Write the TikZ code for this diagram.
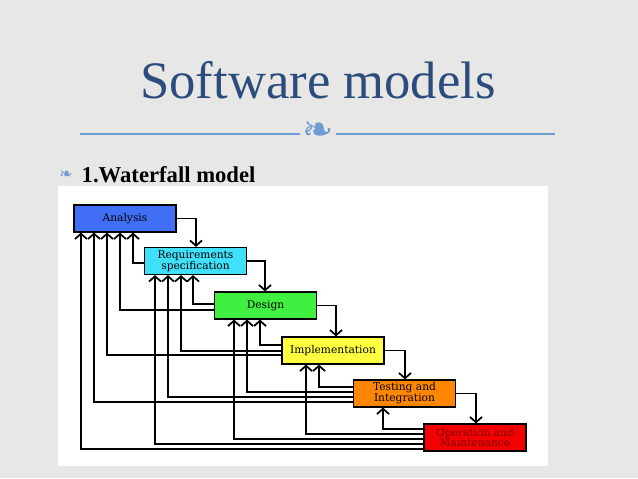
\documentclass[tikz,border=0pt]{standalone}
\usepackage{fontspec}
\setmainfont{Liberation Serif}
\newfontfamily\symfont{DejaVu Sans}
\newfontfamily\boxfont{DejaVu Serif}
\usetikzlibrary{arrows.meta,calc}
\definecolor{bg}{HTML}{E7E7E5}
\definecolor{titleblue}{HTML}{2C4C7E}
\definecolor{lineblue}{HTML}{6E9CD2}
\tikzset{
  box/.style={draw=black,line width=1.1pt,minimum width=76.5pt,minimum height=20pt,inner sep=0pt,align=center,font=\boxfont\fontsize{8}{8.2}\selectfont},
  fw/.style={line width=1.2pt,-{Straight Barb[length=4pt,width=9pt,line width=1.3pt]}},
  fb/.style={line width=1.2pt,-{Straight Barb[length=4pt,width=9pt,line width=1.3pt]}}
}
\begin{document}
\begin{tikzpicture}[x=0.75pt,y=-0.75pt]
\fill[bg] (0,0) rectangle (638,478);
\useasboundingbox (0,0) rectangle (638,478);
\fill[white] (58,186) rectangle (548,466);
\node[text=titleblue,font=\fontsize{39.5}{42}\selectfont] (title) at (318,80) {Software models};
\draw[lineblue,line width=0.8pt] (80,134) -- (300,134);
\draw[lineblue,line width=0.8pt] (336,134) -- (555,134);
\node[text=lineblue,font=\symfont\bfseries\fontsize{28}{28}\selectfont] (orn) at (318,132) {❧};
\node[text=lineblue,font=\symfont\fontsize{12}{12}\selectfont] (bul) at (66,175) {❧};
\node[anchor=west,font=\bfseries\fontsize{17}{17}\selectfont] (sub) at (77,175) {1.Waterfall model};

\node[box,fill={rgb,255:red,64;green,110;blue,245}] (an) at (125,218.5) {Analysis};
\node[box,fill={rgb,255:red,64;green,224;blue,250}] (rq) at (195.5,261) {Requirements\\specification};
\node[box,fill={rgb,255:red,64;green,240;blue,64}] (ds) at (265.5,305.5) {Design};
\node[box,fill={rgb,255:red,255;green,255;blue,64}] (im) at (333,350.5) {Implementation};
\node[box,fill={rgb,255:red,255;green,135;blue,0}] (ts) at (404.5,393.5) {Testing and\\Integration};
\node[box,fill={rgb,255:red,245;green,0;blue,0},text={rgb,255:red,120;green,0;blue,0}] (op) at (475,437.5) {Operation and\\Maintenance};

\draw[fw] (an.east) -| (rq.north -| 196,0);
\draw[fw] (rq.east) -| (ds.north -| 265,0);
\draw[fw] (ds.east) -| (im.north -| 336,0);
\draw[fw] (im.east) -| (ts.north -| 405,0);
\draw[fw] (ts.east) -| (op.north -| 476,0);

\draw[fb] (rq.west |- 0,263) -| (an.south -| 133,0);
\draw[fb] (ds.west |- 0,310) -| (an.south -| 120,0);
\draw[fb] (im.west |- 0,355) -| (an.south -| 107,0);
\draw[fb] (ts.west |- 0,402) -| (an.south -| 94,0);
\draw[fb] (op.west |- 0,449) -| (an.south -| 81,0);

\draw[fb] (ds.west |- 0,304) -| (rq.south -| 193,0);
\draw[fb] (im.west |- 0,351) -| (rq.south -| 181,0);
\draw[fb] (ts.west |- 0,397) -| (rq.south -| 168,0);
\draw[fb] (op.west |- 0,444) -| (rq.south -| 155,0);

\draw[fb] (im.west |- 0,345) -| (ds.south -| 260,0);
\draw[fb] (ts.west |- 0,392) -| (ds.south -| 247,0);
\draw[fb] (op.west |- 0,439) -| (ds.south -| 234,0);

\draw[fb] (ts.west |- 0,387) -| (im.south -| 319,0);
\draw[fb] (op.west |- 0,434) -| (im.south -| 306,0);

\draw[fb] (op.west |- 0,429) -| (ts.south -| 383,0);
\end{tikzpicture}
\end{document}
